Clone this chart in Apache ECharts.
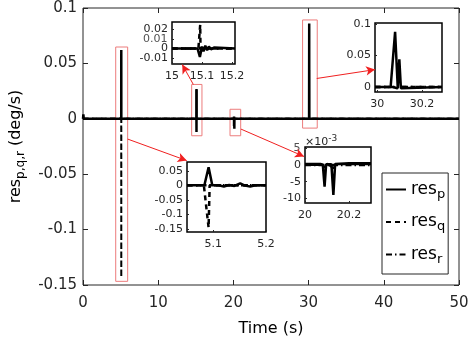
<!DOCTYPE html>
<html><head><meta charset="utf-8">
<script src="https://cdn.jsdelivr.net/npm/echarts@6/dist/echarts.min.js"></script>
<style>html,body{margin:0;padding:0;background:#fff}#c{width:474px;height:342px}</style>
</head><body><div id="c"></div>
<script>
// ---- main axis ticks ----
const mainXTicks = [0, 10, 20, 30, 40, 50];
const mainYTicks = [-0.15, -0.1, -0.05, 0, 0.05, 0.1];

// ---- main series [time s, value deg/s] ----
const mainP = [[0,0],[0.05,0.004],[0.1,0],[5.083,0],[5.091,0.062],[5.098,0],[15.085,0],[15.092,-0.012],[15.094,0.027],[15.1,0],
  [20.08,0],[20.085,0.002],[20.088,-0.0065],[20.095,0],[20.12,0],[20.128,-0.009],[20.135,0],
  [30.065,0],[30.08,0.086],[30.088,0],[30.091,0.044],[30.1,0],[50,0]];
const mainQ = [[0,0],[5.082,0],[5.091,-0.143],[5.093,0],[15.088,0],[15.094,0.026],[15.096,0],[50,0]];
const mainR = [[0,0],[50,0]];

// ---- zoom A (t = 15 ... 15.21) ----
const zoomATicksX = [15, 15.1, 15.2];
const zoomATicksY = [-0.01, 0, 0.01, 0.02];
const zoomAP = [[15,0],[15.085,0],[15.093,-0.009],[15.1,0.002],[15.105,-0.003],[15.111,0.003],[15.117,-0.002],[15.123,0.002],[15.13,-0.001],[15.14,0.001],[15.21,0]];
const zoomAQ = [[15,0],[15.088,0],[15.094,0.025],[15.095,0],[15.21,0]];
const zoomAR = [[15,0],[15.21,0]];

// ---- zoom B (t = 5.05 ... 5.2) ----
const zoomBTicksX = [5.1, 5.2];
const zoomBTicksY = [-0.15, -0.1, -0.05, 0, 0.05];
const zoomBP = [[5.05,0],[5.083,0],[5.091,0.062],[5.098,0],[5.11,0],[5.12,-0.004],[5.13,0.001],[5.14,-0.002],[5.151,0.007],[5.16,-0.001],[5.17,-0.004],[5.18,0],[5.2,0]];
const zoomBQ = [[5.05,0],[5.082,0],[5.091,-0.145],[5.093,0],[5.2,0]];
const zoomBR = [[5.05,0],[5.2,0]];

// ---- zoom C (t = 20 ... 20.3), values x10^-3 ----
const zoomCTicksX = [20, 20.2];
const zoomCTicksY = [-10, -5, 0, 5];
const zoomCP = [[20,0.3],[20.07,0.3],[20.081,0.1],[20.089,-6.5],[20.096,0.2],[20.12,0.2],[20.129,-9],[20.137,0.3],[20.2,0.5],[20.3,0.5]];
const zoomCQ = [[20,0],[20.08,0],[20.09,-0.8],[20.1,0.4],[20.13,-1],[20.14,0.3],[20.3,0.2]];
const zoomCR = [[20,0],[20.3,0]];

// ---- zoom D (t = 29.99 ... 30.29) ----
const zoomDTicksX = [30, 30.2];
const zoomDTicksY = [0, 0.05, 0.1];
const zoomDP = [[29.99,0],[30.06,0],[30.066,-0.003],[30.08,0.088],[30.092,-0.002],[30.094,0],[30.099,0.044],[30.106,-0.002],[30.112,0],[30.29,0]];
const zoomDQ = [[29.99,0],[30.07,0],[30.075,-0.003],[30.09,-0.002],[30.1,0],[30.29,0]];
const zoomDR = [[29.99,0],[30.29,0]];

// ---- annotation boxes (data coords of main plot) and arrows ----
const zoomBoxes = [[4.35,0.0648,5.94,-0.1467],[14.45,0.031,15.82,-0.0153],[19.55,0.0086,20.97,-0.0153],[29.2,0.0892,31.15,-0.0084]];
const zoomArrows = [[5.94,-0.0183,13.79,-0.0377],[14.67,0.031,13.2,0.0489],[21.01,-0.0093,29.39,-0.034],[31.08,0.0364,38.83,0.0444]];

const FONT = 'DejaVu Sans';
const AX = '#262626';
const fmt = v => String(parseFloat(Number(v).toFixed(4)));
const pick = (arr, idx) => idx.map(i => arr[i]);

function insetX(grid, min, max, ticks) {
  return {type:'value', gridIndex:grid, min, max, position:'bottom',
    axisLine:{show:false, onZero:false},
    axisTick:{show:true, inside:true, length:2, lineStyle:{color:AX}, customValues:ticks},
    axisLabel:{fontFamily:FONT, fontSize:11, color:AX, margin:7, customValues:ticks, formatter:fmt,
      interval:0, hideOverlap:false, showMinLabel:true, showMaxLabel:true},
    splitLine:{show:false}};
}
function insetY(grid, min, max, ticks, labels, showTicks) {
  return {type:'value', gridIndex:grid, min, max, position:'left',
    axisLine:{show:false, onZero:false},
    axisTick:{show:showTicks, inside:true, length:2, lineStyle:{color:AX}, customValues:ticks},
    axisLabel:{fontFamily:FONT, fontSize:11, color:AX, margin:4, customValues:labels, formatter:fmt,
      interval:0, hideOverlap:false, showMinLabel:true, showMaxLabel:true},
    splitLine:{show:false}};
}
function ln(name, data, xi, yi, type, w) {
  return {name, type:'line', data, xAxisIndex:xi, yAxisIndex:yi, symbol:'none', silent:true,
    lineStyle:{color:'#000', width:w, type}, itemStyle:{color:'#000'}, z:3};
}
// tick label placed at the inset's left edge through the inset's own scales
function tickLabel(name, xMin, yVal, xi, yi) {
  return {name, type:'scatter', data:[[xMin, yVal]], xAxisIndex:xi, yAxisIndex:yi, silent:true, clip:false,
    symbolSize:1, itemStyle:{color:'rgba(0,0,0,0)'}, z:4,
    label:{show:true, position:'left', distance:4, fontFamily:FONT, fontSize:11, color:AX,
      formatter: p => fmt(p.value[1])},
    labelLayout:{hideOverlap:false}};
}
const DASH = [5,4];
const DASHDOT = [6,3,1.5,3];

const insetGrid = (l,t,w,h) => ({left:l, top:t, width:w, height:h, show:true, backgroundColor:'#fff', borderColor:'#000', borderWidth:1.5, containLabel:false});

const nameRich = {
  m:{fontFamily:FONT, fontSize:16, color:'#000'},
  s:{fontFamily:FONT, fontSize:12, color:'#000', padding:[10,0,0,0]}
};
const legendRich = {
  m:{fontFamily:FONT, fontSize:17, color:'#000'},
  s:{fontFamily:FONT, fontSize:13, color:'#000', padding:[10,0,0,0]}
};

const option = {
  animation:false,
  backgroundColor:'#fff',
  title:{text:'{m|×10}{u|-3}', left:305, top:132, padding:0, textStyle:{fontWeight:'normal', rich:{
      m:{fontFamily:FONT, fontSize:11, fontWeight:'normal', color:AX, padding:[5,0,0,0]},
      u:{fontFamily:FONT, fontSize:9, fontWeight:'normal', color:AX, padding:[0,0,3,0]}}}},
  grid:[
    {left:83, top:8, width:376, height:279, show:true, borderColor:AX, borderWidth:1, backgroundColor:'transparent'},
    insetGrid(172,22,63,42),
    insetGrid(187,162,79,70),
    insetGrid(305,147,66,56),
    insetGrid(375,23,67,69)
  ],
  xAxis:[
    {type:'value', gridIndex:0, min:0, max:50, interval:10, position:'bottom',
      name:'Time (s)', nameLocation:'middle', nameGap:36, nameTextStyle:{fontFamily:FONT, fontSize:16, color:'#000'},
      axisLine:{show:false, onZero:false}, axisTick:{inside:true, length:5, lineStyle:{color:AX}},
      axisLabel:{fontFamily:FONT, fontSize:15, color:AX, margin:11, formatter:fmt}, splitLine:{show:false}},
    {type:'value', gridIndex:0, min:0, max:50, interval:10, position:'top',
      axisLine:{show:false, onZero:false}, axisTick:{inside:true, length:5, lineStyle:{color:AX}},
      axisLabel:{show:false}, splitLine:{show:false}},
    insetX(1, 15, 15.21, zoomATicksX),
    insetX(2, 5.05, 5.2, zoomBTicksX),
    insetX(3, 20, 20.3, zoomCTicksX),
    insetX(4, 29.99, 30.29, zoomDTicksX)
  ],
  yAxis:[
    {type:'value', gridIndex:0, min:-0.15, max:0.1, interval:0.05, position:'left',
      name:'{m|res}{s|p,q,r}{m| (deg/s)}', nameLocation:'middle', nameGap:56, nameRotate:90,
      nameTextStyle:{rich:nameRich},
      axisLine:{show:false, onZero:false}, axisTick:{inside:true, length:5, lineStyle:{color:AX}},
      axisLabel:{fontFamily:FONT, fontSize:15, color:AX, margin:6, formatter:fmt}, splitLine:{show:false}},
    {type:'value', gridIndex:0, min:-0.15, max:0.1, interval:0.05, position:'right',
      axisLine:{show:false, onZero:false}, axisTick:{inside:true, length:5, lineStyle:{color:AX}},
      axisLabel:{show:false}, splitLine:{show:false}},
    insetY(1, -0.0165, 0.028, zoomATicksY, pick(zoomATicksY, [0]), true),
    insetY(2, -0.16, 0.08, zoomBTicksY, zoomBTicksY, true),
    insetY(3, -11.4, 5.4, zoomCTicksY, pick(zoomCTicksY, [0, 1, 2]), true),
    insetY(4, -0.008, 0.102, zoomDTicksY, zoomDTicksY, true),
    insetY(1, -0.0165, 0.028, zoomATicksY, pick(zoomATicksY, [1, 3]), false)
  ],
  legend:{
    data:['res_p','res_q','res_r'], orient:'vertical', left:382, top:173,
    padding:[8,3,8,3], itemGap:12.5, itemWidth:20, itemHeight:12, itemTextGap:2,
    borderColor:AX, borderWidth:1, backgroundColor:'#fff', selectedMode:false,
    itemStyle:{color:'rgba(0,0,0,0)', borderColor:'rgba(0,0,0,0)', borderWidth:0, opacity:0},
    formatter: n => '{m|res}{s|' + n.split('_')[1] + '}',
    textStyle:{rich:legendRich}
  },
  series:[
    Object.assign(ln('res_p', mainP, 0, 0, 'solid', 2.5), {
      markArea:{silent:true, itemStyle:{color:'rgba(0,0,0,0)', borderColor:'#ec7c7c', borderWidth:1},
        label:{show:false},
        data: zoomBoxes.map(b => [{coord:[b[0], b[1]]}, {coord:[b[2], b[3]]}])},
      markLine:{silent:true, symbol:['none','arrow'], symbolSize:[7,9], label:{show:false},
        lineStyle:{color:'#f02020', width:1, type:'solid'}, emphasis:{disabled:true},
        data: zoomArrows.map(a => [{coord:[a[0], a[1]]}, {coord:[a[2], a[3]]}])}
    }),
    ln('res_q', mainQ, 0, 0, DASH, 2),
    ln('res_r', mainR, 0, 0, DASHDOT, 2),
    ln('A_p', zoomAP, 2, 2, 'solid', 2.5), ln('A_q', zoomAQ, 2, 2, DASH, 2.5), ln('A_r', zoomAR, 2, 2, DASHDOT, 2.5),
    ln('B_p', zoomBP, 3, 3, 'solid', 2.5), ln('B_q', zoomBQ, 3, 3, DASH, 2.5), ln('B_r', zoomBR, 3, 3, DASHDOT, 2.5),
    ln('C_p', zoomCP, 4, 4, 'solid', 2.5), ln('C_q', zoomCQ, 4, 4, 'solid', 2), ln('C_r', zoomCR, 4, 4, DASHDOT, 2.5),
    ln('D_p', zoomDP, 5, 5, 'solid', 2.5), ln('D_q', zoomDQ, 5, 5, DASH, 2.5), ln('D_r', zoomDR, 5, 5, DASHDOT, 2.5),
    tickLabel('A_tick', 15, zoomATicksY[2], 2, 2),
    tickLabel('C_tick', 20, zoomCTicksY[3], 4, 4)
  ]
};
const chart = echarts.init(document.getElementById('c'), null, {renderer:'canvas'});
chart.setOption(option);
</script></body></html>
